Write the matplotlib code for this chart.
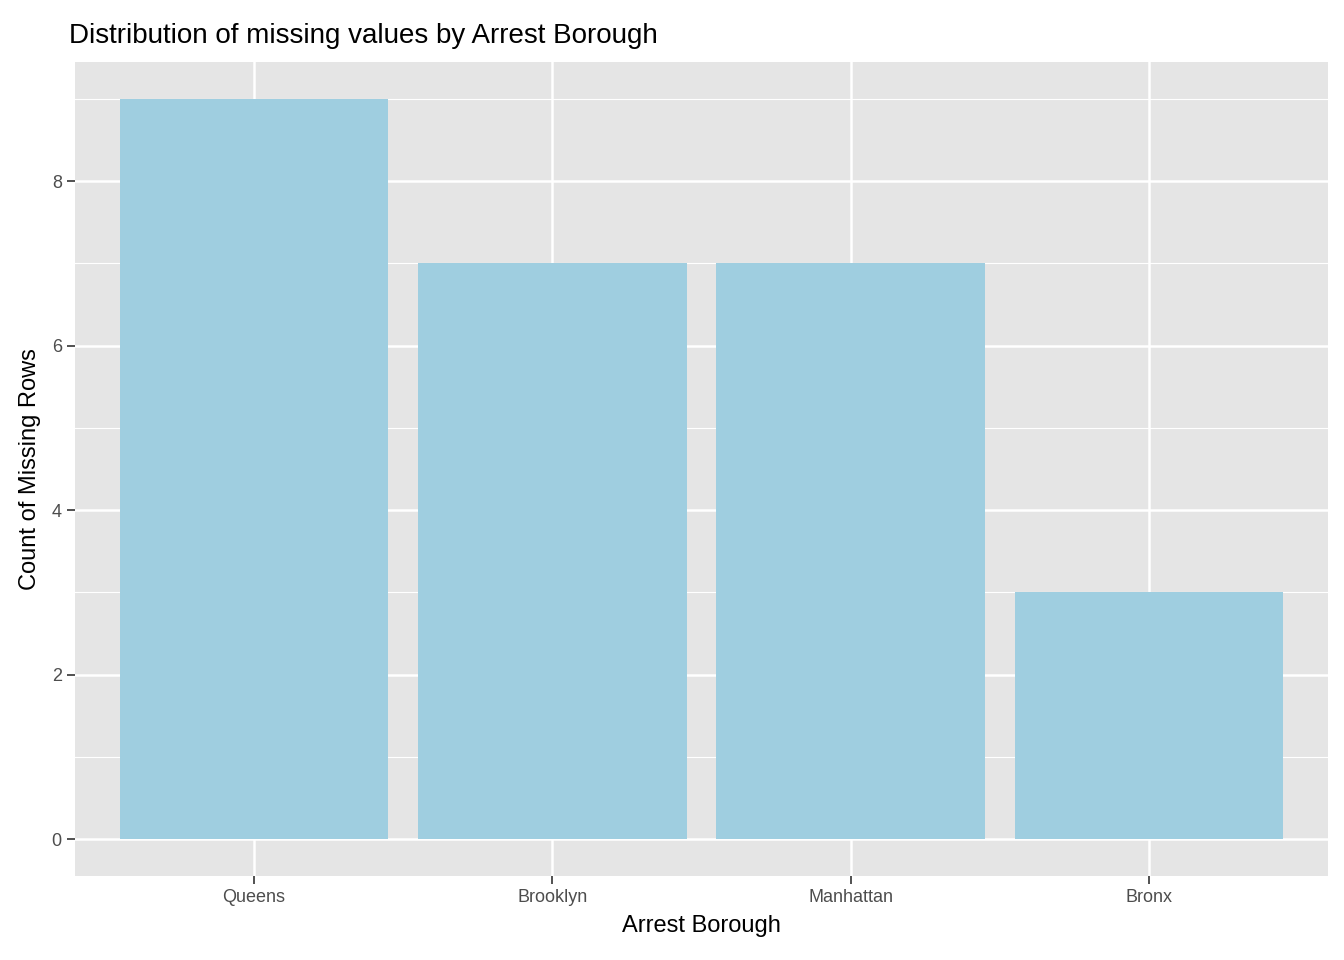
import matplotlib
matplotlib.use("Agg")
import matplotlib.pyplot as plt
import numpy as np

boroughs = ["Queens", "Brooklyn", "Manhattan", "Bronx"]
counts = [9, 7, 7, 3]

plt.rcParams['font.family'] = ['Liberation Sans', 'DejaVu Sans']
fig = plt.figure(figsize=(13.44, 9.6), dpi=100)
ax = fig.add_axes([75/1344, 1-876/960, (1328-75)/1344, (876-62)/960])
ax.set_facecolor("#E5E5E5")
x = np.arange(len(boroughs))
ax.set_axisbelow(True)
for y in np.arange(1, 10, 2):
    ax.axhline(y, color="white", lw=0.8, zorder=0)
ax.grid(True, color="white", lw=1.8, zorder=0)
ax.bar(x, counts, width=0.9, color="#9FCEE0", zorder=2)
ax.set_xlim(-0.6, 3.6)
ax.set_ylim(-0.45, 9.45)
ax.set_xticks(x)
ax.set_xticklabels(boroughs)
ax.set_yticks([0, 2, 4, 6, 8])
for s in ax.spines.values():
    s.set_visible(False)
ax.tick_params(colors="#333333", labelsize=13, length=6, width=1.2, color="#333333")
ax.tick_params(axis="x", labelcolor="#4D4D4D")
ax.tick_params(axis="y", labelcolor="#4D4D4D")
ax.set_xlabel("Arrest Borough", fontsize=17, labelpad=6)
ax.set_ylabel("Count of Missing Rows", fontsize=17, labelpad=8)
ax.set_title("Distribution of missing values by Arrest Borough", fontsize=20, loc="left", x=-0.005, pad=14)
fig.savefig("out.png", dpi=100)
